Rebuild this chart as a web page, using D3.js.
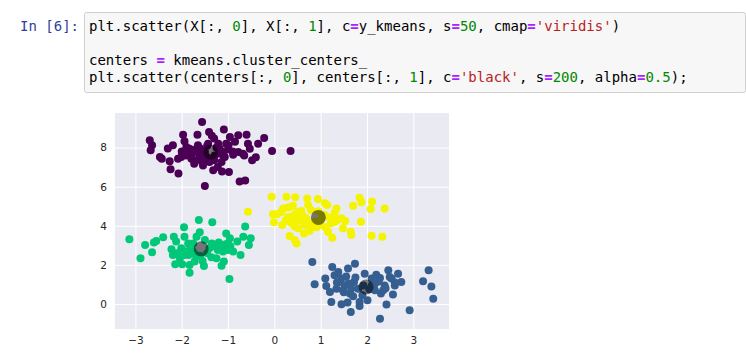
<!DOCTYPE html>
<html>
<head>
<meta charset="utf-8">
<script src="https://cdn.jsdelivr.net/npm/d3@7"></script>
<style>
  html, body { margin: 0; padding: 0; background: #fff; }
  svg { display: block; }
  .code { font-family: "DejaVu Sans Mono", monospace; font-size: 14px; white-space: pre; }
</style>
</head>
<body>
<svg id="chart" width="746" height="357"></svg>
<script>
// ---- data ----
const clusterLabels = [0, 1, 2, 3];
const clusterColors = ["#4b0055", "#355e91", "#00c878", "#f4f400"];

const purpleX = [-1.56,-2.69,-2.64,-2.67,-2.19,-1.97,-1.94,-1.66,-1.41,-1.09,-1.30,-1.21,-0.96,-0.78,-0.60,-0.57,-0.35,-0.22,-0.05,0.35,-0.99,-0.89,-0.68,-0.53,-0.48,-0.65,-2.47,-2.43,-2.26,-2.08,-2.24,-2.07,-1.83,-1.79,-1.73,-1.61,-1.56,-1.50,-1.40,-1.32,-1.14,-1.13,-0.98,-1.11,-1.18,-1.04,-1.50,-0.75,-0.63,-1.86,-1.68,-2.01,-1.43,-1.29,-1.07,-1.90,-1.65,-1.54,-1.22,-0.78,-1.70,-1.20,-1.00,-0.85,-1.45,-1.90,-2.30,-0.40,-1.35,-1.75,-1.60,-1.25,-1.10,-1.55,-2.00,-0.90,-1.30,-1.70,-1.45];
const purpleY = [9.31,8.37,8.12,7.86,8.12,8.66,8.32,8.66,8.80,8.93,8.46,8.20,8.54,8.63,8.66,8.20,8.20,8.49,7.83,7.83,8.12,7.64,7.69,7.94,7.35,7.60,7.52,7.43,7.30,7.43,6.89,6.67,7.94,7.43,7.18,7.60,7.26,7.77,7.26,6.84,7.26,6.78,6.75,7.77,7.94,8.20,6.04,6.27,6.32,7.69,7.86,7.52,8.20,7.60,7.52,8.03,8.12,7.09,7.01,7.77,7.90,7.70,7.90,8.30,7.50,7.60,7.95,7.50,8.60,7.75,7.95,8.00,7.60,7.55,7.80,7.80,7.35,7.35,8.10];

const greenX = [-3.13,-2.89,-2.79,-2.64,-2.60,-2.55,-2.40,-2.22,-2.19,-2.17,-2.14,-2.12,-2.01,-1.99,-1.95,-1.94,-1.86,-1.85,-1.83,-1.83,-1.72,-1.68,-1.63,-1.61,-1.50,-1.52,-1.40,-1.34,-1.36,-1.25,-1.29,-1.18,-1.14,-1.09,-1.04,-1.00,-0.96,-0.89,-0.97,-0.73,-0.67,-0.63,-0.55,-0.51,-1.76,-1.94,-2.04,-1.22,-1.07,-1.11,-1.00,-1.70,-1.80,-1.55,-1.30,-0.80,-1.90,-1.75,-1.45,-1.20,-1.05,-1.35,-1.60,-2.10,-0.95];
const greenY = [3.31,2.34,3.02,2.64,3.15,3.22,3.41,2.80,2.51,3.44,2.03,3.19,2.85,2.03,3.92,3.44,3.10,2.51,1.99,1.60,2.17,3.44,4.30,3.67,3.27,1.94,2.85,4.18,2.39,2.34,3.02,3.05,1.96,2.17,3.61,3.10,3.36,2.68,1.28,2.51,3.44,3.97,3.02,3.36,2.68,2.51,2.34,2.76,2.93,2.68,2.76,2.50,2.90,2.20,2.95,3.20,2.70,3.10,2.60,3.15,3.05,3.10,2.45,2.60,2.95];

const yellowX = [-0.57,-0.06,0.26,0.45,0.71,0.94,1.09,1.14,0.19,0.30,0.40,0.51,0.58,0.73,0.79,-0.03,0.06,-0.01,0.17,0.40,0.48,0.44,0.51,0.66,0.69,0.76,0.64,0.33,0.44,0.48,0.91,1.10,1.16,1.25,1.30,1.34,1.36,1.48,1.53,1.65,1.66,1.70,1.87,1.84,1.88,2.11,2.08,2.38,2.10,2.33,1.22,1.02,1.09,0.87,1.45,0.25,0.60,1.20,0.80,0.35,0.45,0.55,0.95,1.00,0.30,0.70,1.30,0.15,0.85];
const yellowY = [4.72,5.49,5.49,5.46,5.40,5.37,5.15,5.06,4.89,4.93,5.03,4.69,4.76,5.06,4.81,4.59,4.59,4.18,4.04,4.47,4.30,3.96,3.87,4.04,4.38,3.73,3.61,3.48,3.27,3.10,3.92,3.92,3.70,3.39,4.64,4.89,4.30,3.87,4.25,3.70,3.53,5.03,4.21,5.44,5.20,5.23,4.86,4.89,3.49,3.44,4.13,4.38,4.55,4.21,4.38,4.30,4.55,4.40,4.10,4.15,4.60,4.30,4.75,4.05,4.45,4.20,4.20,4.70,3.95];

const blueX = [0.82,0.87,1.25,1.10,1.12,1.20,1.23,1.30,1.38,1.41,1.45,1.48,1.58,1.59,1.63,1.65,1.74,1.72,1.81,1.84,1.84,1.95,2.01,2.10,2.17,2.28,2.28,2.35,2.42,2.46,2.49,2.56,2.60,2.67,2.74,2.92,3.21,3.33,3.39,3.43,1.92,2.17,2.38,1.52,1.34,1.66,2.53,2.30,1.75,2.05,1.45,2.20,1.90,1.60,1.50,2.25,2.40,1.70,2.10,1.35,2.60,1.55];
const blueY = [2.15,1.01,1.89,1.30,0.92,0.61,0.10,1.47,1.64,1.13,-0.02,0.70,0.07,1.81,0.53,-0.41,2.06,1.13,0.78,0.10,-0.10,1.55,0.19,1.30,0.70,-0.75,1.33,0.70,-0.03,1.72,1.38,0.48,0.95,1.55,1.13,-0.32,1.16,1.72,0.90,0.27,0.95,1.04,0.95,0.95,0.78,0.78,1.30,0.53,1.35,0.75,1.30,1.50,0.45,1.05,0.60,1.15,0.80,0.40,0.95,1.10,1.10,1.40];

const centerX = [-1.37, 1.98, -1.58, 0.95];
const centerY = [7.76, 0.87, 2.82, 4.43];

const xTicks = [-3, -2, -1, 0, 1, 2, 3];
const yTicks = [0, 2, 4, 6, 8];

const codeLines = [
  [["plt.scatter(X[:, ","t"],["0","n"],["], X[:, ","t"],["1","n"],["], c","t"],["=","o"],["y_kmeans, s","t"],["=","o"],["50","n"],[", cmap","t"],["=","o"],["'viridis'","s"],[")","t"]],
  [],
  [["centers ","t"],["=","o"],[" kmeans.cluster_centers_","t"]],
  [["plt.scatter(centers[:, ","t"],["0","n"],["], centers[:, ","t"],["1","n"],["], c","t"],["=","o"],["'black'","s"],[", s","t"],["=","o"],["200","n"],[", alpha","t"],["=","o"],["0.5","n"],[");","t"]]
];

// ---- drawing ----
const svg = d3.select("#chart");

// code cell
svg.append("text").attr("x", 20).attr("y", 31).attr("class", "code")
  .attr("fill", "#303F9F").text("In [6]:");
svg.append("rect").attr("x", 84.5).attr("y", 12.5).attr("width", 661).attr("height", 80)
  .attr("rx", 2).attr("fill", "#f7f7f7").attr("stroke", "#cfcfcf");
const tokColor = { t: "#000", n: "#008800", o: "#AA22FF", s: "#BA2121" };
codeLines.forEach((line, i) => {
  const t = svg.append("text").attr("class", "code").attr("x", 89).attr("y", 31 + i * 17);
  line.forEach(([s, k]) => {
    t.append("tspan").attr("fill", tokColor[k]).attr("font-weight", k === "o" ? "bold" : null).text(s);
  });
});

// chart
const L = 115, R = 449, T = 113, B = 329;
const x = d3.scaleLinear().domain([-3.44, 3.77]).range([L, R]);
const y = d3.scaleLinear().domain([-1.28, 9.77]).range([B, T]);

svg.append("rect").attr("x", L).attr("y", T).attr("width", R - L).attr("height", B - T).attr("fill", "#EAEAF2");

const gx = svg.append("g").attr("transform", `translate(0,${B})`)
  .call(d3.axisBottom(x).tickValues(xTicks).tickSize(-(B - T)).tickPadding(8));
const gy = svg.append("g").attr("transform", `translate(${L},0)`)
  .call(d3.axisLeft(y).tickValues(yTicks).tickFormat(d3.format("d")).tickSize(-(R - L)).tickPadding(8));
[gx, gy].forEach(g => {
  g.select(".domain").remove();
  g.selectAll(".tick line").attr("stroke", "#fff").attr("stroke-width", 1);
  g.selectAll(".tick text").attr("fill", "#262626").attr("font-family", "DejaVu Sans, sans-serif").attr("font-size", 10.5);
});

const clusters = [
  { xs: purpleX, ys: purpleY, label: clusterLabels[0] },
  { xs: blueX, ys: blueY, label: clusterLabels[1] },
  { xs: greenX, ys: greenY, label: clusterLabels[2] },
  { xs: yellowX, ys: yellowY, label: clusterLabels[3] }
];
const pts = [];
clusters.forEach(c => c.xs.forEach((v, i) => pts.push({ x: v, y: c.ys[i], label: c.label })));

svg.append("g").selectAll("circle").data(pts).join("circle")
  .attr("cx", d => x(d.x)).attr("cy", d => y(d.y)).attr("r", 4)
  .attr("fill", d => clusterColors[d.label]);

svg.append("g").selectAll("circle").data(centerX.map((v, i) => ({ x: v, y: centerY[i] }))).join("circle")
  .attr("cx", d => x(d.x)).attr("cy", d => y(d.y)).attr("r", 7.5)
  .attr("fill", "#000").attr("fill-opacity", 0.5);
</script>
</body>
</html>
